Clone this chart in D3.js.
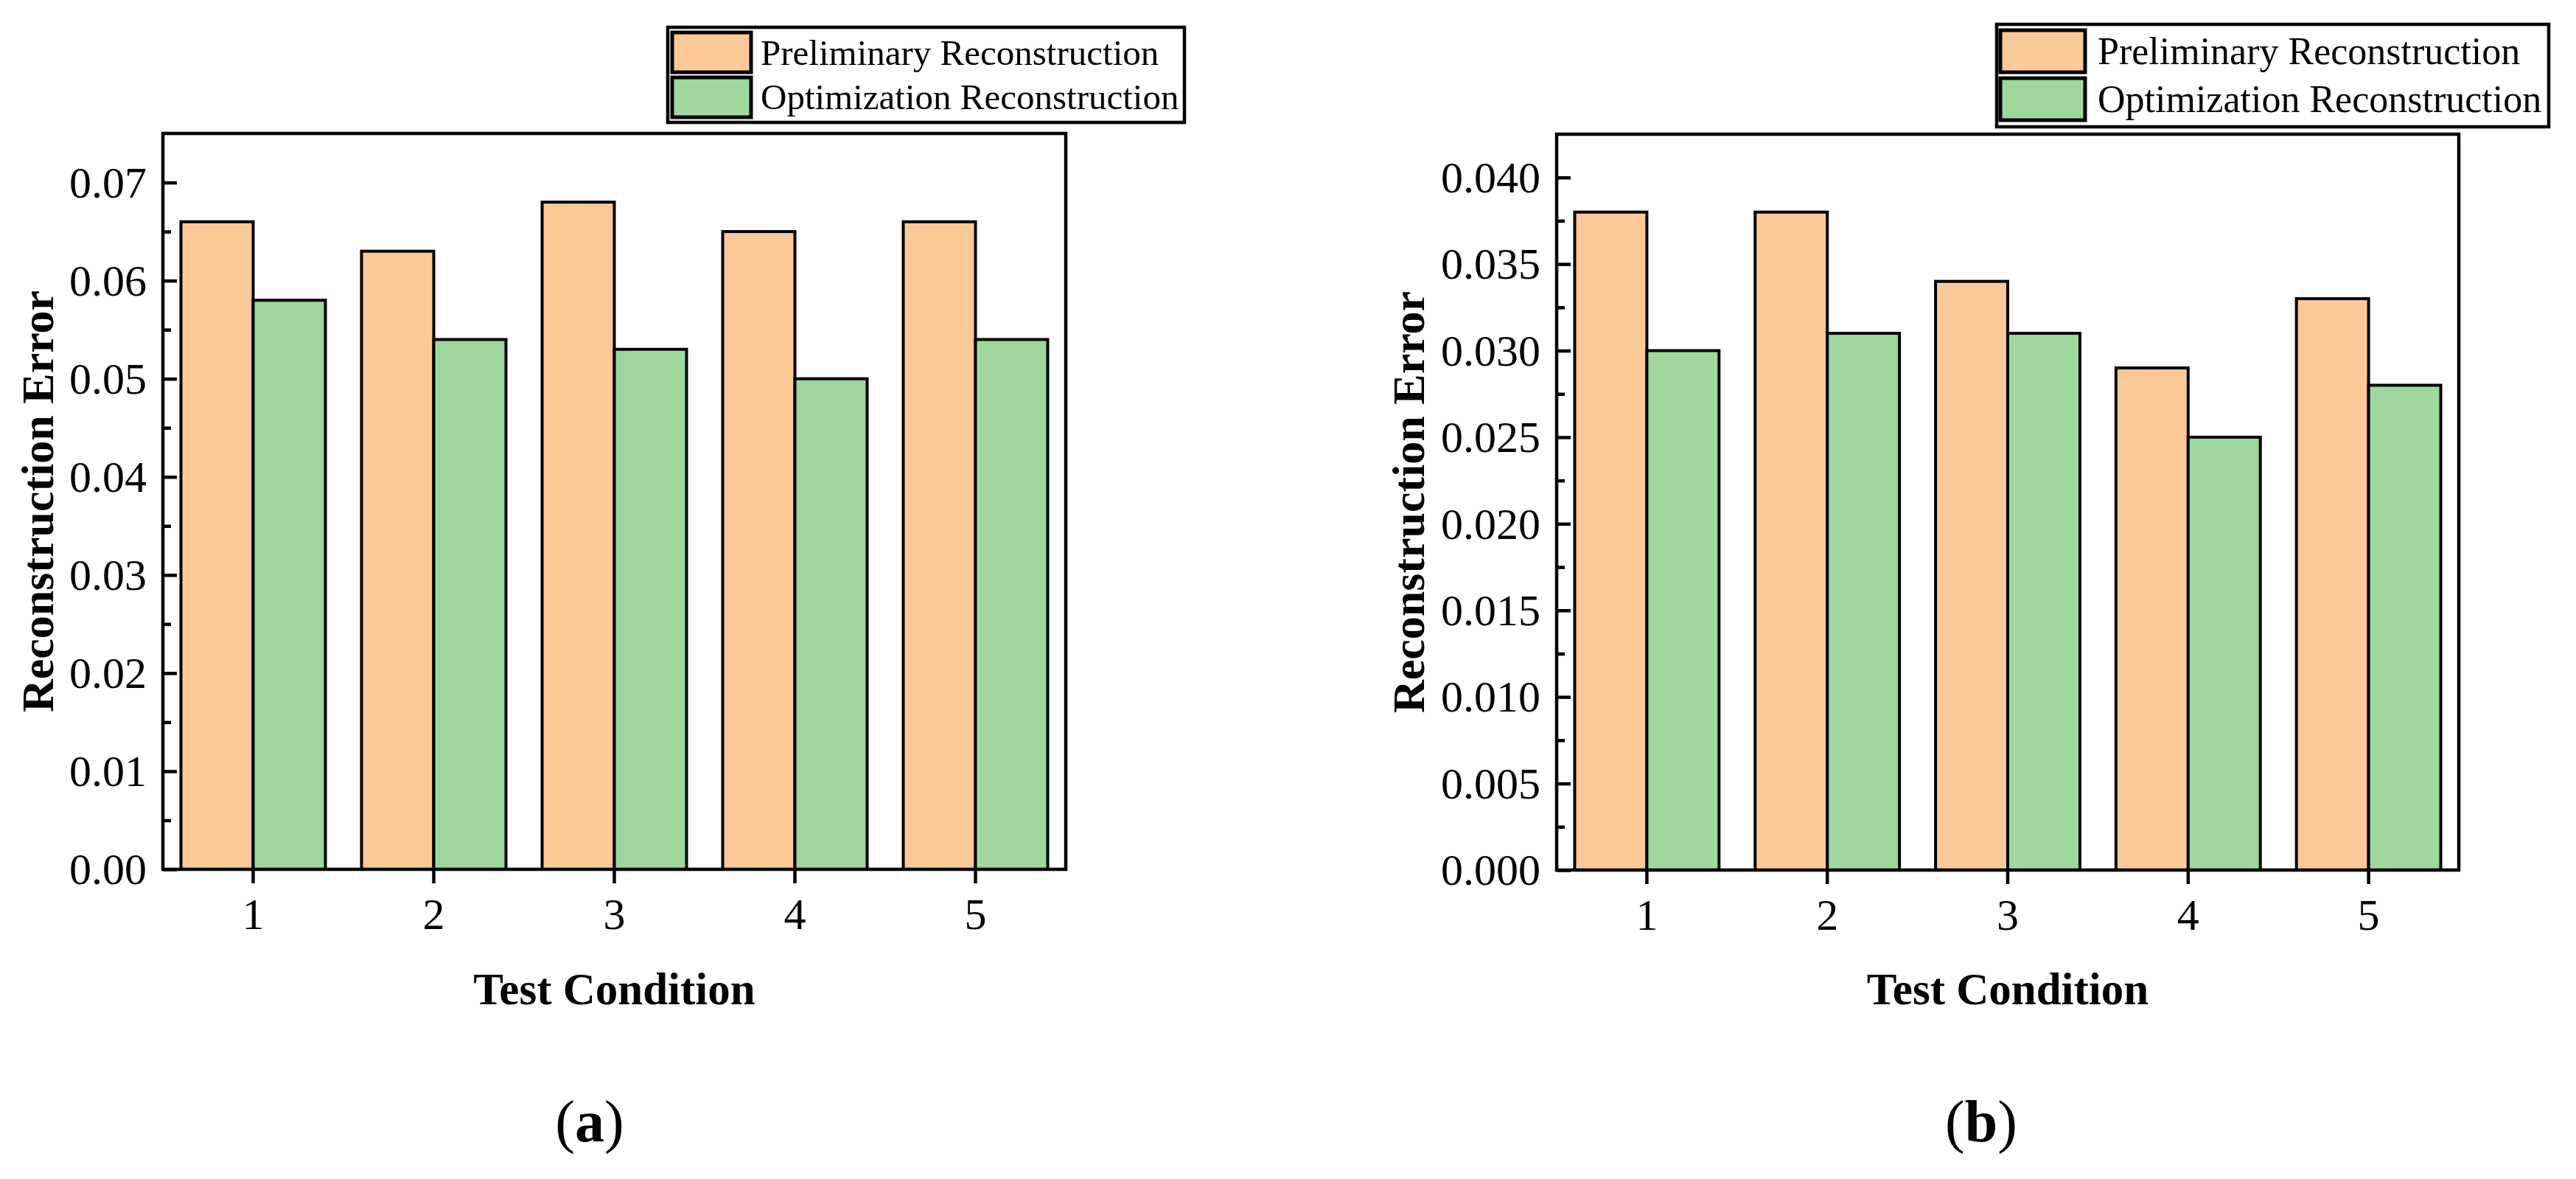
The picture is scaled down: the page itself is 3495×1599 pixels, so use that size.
<!DOCTYPE html>
<html>
<head>
<meta charset="utf-8">
<script src="https://cdn.jsdelivr.net/npm/d3@7"></script>
<style>
  html, body { margin: 0; padding: 0; background: #fff; }
  svg { display: block; }
  text { font-family: "Times New Roman", "Liberation Serif", serif; fill: #000; }
</style>
</head>
<body>
<svg id="chart" width="3495" height="1599"></svg>
<script>
// ---------------- data ----------------
const categories = ["1", "2", "3", "4", "5"];
const seriesNames = ["Preliminary Reconstruction", "Optimization Reconstruction"];
const seriesColors = ["#FBC998", "#9ED89C"];

const preliminaryA = [0.066, 0.063, 0.068, 0.065, 0.066];
const optimizationA = [0.058, 0.054, 0.053, 0.050, 0.054];
const preliminaryB = [0.038, 0.038, 0.034, 0.029, 0.033];
const optimizationB = [0.030, 0.031, 0.031, 0.025, 0.028];

const yTicksA = [0.00, 0.01, 0.02, 0.03, 0.04, 0.05, 0.06, 0.07];
const yMinorA = [0.005, 0.015, 0.025, 0.035, 0.045, 0.055, 0.065];
const yTicksB = [0.000, 0.005, 0.010, 0.015, 0.020, 0.025, 0.030, 0.035, 0.040];
const yMinorB = [0.0025, 0.0075, 0.0125, 0.0175, 0.0225, 0.0275, 0.0325, 0.0375];

const xTitle = "Test Condition";
const yTitle = "Reconstruction Error";

// ---------------- drawing ----------------
const svg = d3.select("#chart");

function drawPanel(cfg) {
  const g = svg.append("g");
  const x = d3.scaleBand().domain(categories)
    .range([cfg.left, cfg.right]).paddingInner(0.2).paddingOuter(0.1);
  const xs = d3.scaleBand().domain([0, 1]).range([0, x.bandwidth()]);
  const y = d3.scaleLinear().domain([0, cfg.yMax]).range([cfg.bottom, cfg.top]);

  const rows = categories.map((c, i) => ({ c, vals: [cfg.s1[i], cfg.s2[i]] }));

  // bars
  const grp = g.append("g").selectAll("g").data(rows).join("g")
    .attr("transform", d => `translate(${x(d.c)},0)`);
  grp.selectAll("rect").data(d => d.vals.map((v, k) => ({ v, k }))).join("rect")
    .attr("x", d => xs(d.k))
    .attr("width", xs.bandwidth())
    .attr("y", d => y(d.v))
    .attr("height", d => y(0) - y(d.v))
    .attr("fill", d => seriesColors[d.k])
    .attr("stroke", "#000")
    .attr("stroke-width", 4);

  // frame
  g.append("rect")
    .attr("x", cfg.left).attr("y", cfg.top)
    .attr("width", cfg.right - cfg.left).attr("height", cfg.bottom - cfg.top)
    .attr("fill", "none").attr("stroke", "#000").attr("stroke-width", 4.5);

  // y axis major
  const yAx = g.append("g").attr("transform", `translate(${cfg.left},0)`)
    .call(d3.axisLeft(y).tickValues(cfg.yTicks).tickFormat(d3.format(cfg.fmt))
      .tickSize(-19).tickPadding(22));
  yAx.select(".domain").remove();
  yAx.selectAll("line").attr("stroke", "#000").attr("stroke-width", 4.5);
  yAx.selectAll("text").attr("font-size", 60).attr("dy", "0.33em")
    .attr("font-family", "'Times New Roman', 'Liberation Serif', serif");

  // y axis minor
  const yMin = g.append("g").attr("transform", `translate(${cfg.left},0)`)
    .call(d3.axisLeft(y).tickValues(cfg.yMinor).tickFormat("").tickSize(-11));
  yMin.select(".domain").remove();
  yMin.selectAll("line").attr("stroke", "#000").attr("stroke-width", 4.5);

  // x axis
  const xAx = g.append("g").attr("transform", `translate(0,${cfg.bottom})`)
    .call(d3.axisBottom(x).tickSize(19).tickPadding(19));
  xAx.select(".domain").remove();
  xAx.selectAll("line").attr("stroke", "#000").attr("stroke-width", 4.5);
  xAx.selectAll("text").attr("font-size", 60).attr("dy", "0.71em")
    .attr("font-family", "'Times New Roman', 'Liberation Serif', serif");

  // axis titles
  g.append("text")
    .attr("x", (cfg.left + cfg.right) / 2).attr("y", 1362)
    .attr("text-anchor", "middle").attr("font-weight", "bold").attr("font-size", 61)
    .text(xTitle);
  g.append("text")
    .attr("transform", `translate(${cfg.yTitleX},${(cfg.top + cfg.bottom) / 2}) rotate(-90)`)
    .attr("text-anchor", "middle").attr("font-weight", "bold").attr("font-size", 62)
    .text(yTitle);

  // panel label
  const lab = g.append("text")
    .attr("x", cfg.labelX).attr("y", 1548)
    .attr("text-anchor", "middle").attr("font-size", 80);
  lab.append("tspan").text("(");
  lab.append("tspan").attr("font-weight", "bold").text(cfg.label);
  lab.append("tspan").text(")");

  // legend
  const L = cfg.legend;
  const lg = g.append("g");
  lg.append("rect")
    .attr("x", L.x).attr("y", L.y).attr("width", L.w).attr("height", L.h)
    .attr("fill", "#fff").attr("stroke", "#000").attr("stroke-width", 4.5);
  seriesNames.forEach((name, k) => {
    lg.append("rect")
      .attr("x", L.sx).attr("y", L.sy[k]).attr("width", L.sw).attr("height", L.sh)
      .attr("fill", seriesColors[k]).attr("stroke", "#000").attr("stroke-width", 5);
    lg.append("text")
      .attr("x", L.tx).attr("y", L.ty[k]).attr("font-size", L.fs)
      .text(name);
  });
}

drawPanel({
  left: 221, right: 1446, top: 181, bottom: 1179, yMax: 0.075,
  s1: preliminaryA, s2: optimizationA,
  yTicks: yTicksA, yMinor: yMinorA, fmt: ".2f",
  yTitleX: 72, labelX: 800, label: "a",
  legend: { x: 906, y: 37, w: 701, h: 129, sx: 912, sy: [44, 105], sw: 107, sh: 54,
            tx: 1032, ty: [88, 148], fs: 49 }
});

drawPanel({
  left: 2112, right: 3336, top: 182, bottom: 1180, yMax: 0.0425,
  s1: preliminaryB, s2: optimizationB,
  yTicks: yTicksB, yMinor: yMinorB, fmt: ".3f",
  yTitleX: 1932, labelX: 2688, label: "b",
  legend: { x: 2709, y: 33, w: 749, h: 139, sx: 2714, sy: [41, 106], sw: 115, sh: 57,
            tx: 2846, ty: [87, 152], fs: 52 }
});
</script>
</body>
</html>
